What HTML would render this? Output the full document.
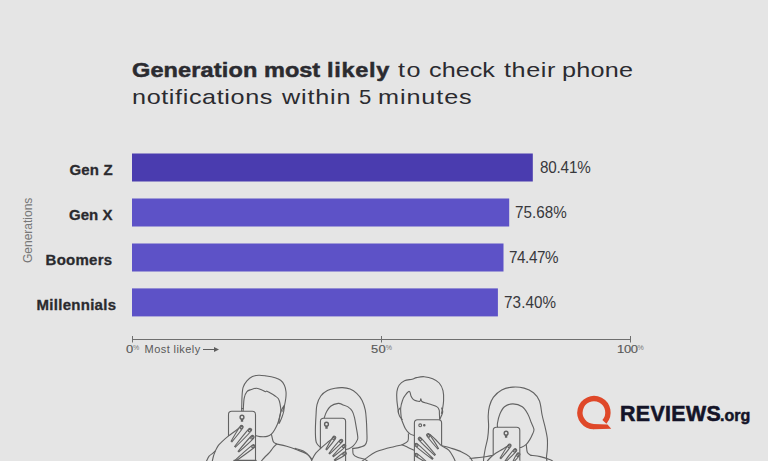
<!DOCTYPE html>
<html><head><meta charset="utf-8">
<style>
html,body{margin:0;padding:0;}
body{width:768px;height:461px;overflow:hidden;background:#e5e5e5;position:relative;font-family:"Liberation Sans",sans-serif;}
.tx{position:absolute;white-space:nowrap;}
.bar{position:absolute;left:132px;height:28px;background:#5d52c7;}
svg{position:absolute;left:0;top:0;}
</style></head><body>
<svg width="768" height="461">
<rect x="132" y="153.5" width="400.8" height="28" fill="#4a3caf"/>
<rect x="132" y="198.5" width="377.2" height="28" fill="#5d52c7"/>
<rect x="132" y="243.5" width="371.5" height="28" fill="#5d52c7"/>
<rect x="132" y="288.4" width="365.9" height="28" fill="#5d52c7"/>
</svg>
<div class="tx" style="left:131.7px;top:59.0px;font-size:21px;line-height:21px;font-weight:700;letter-spacing:0.11px;color:#2b2b30;transform-origin:0 0;transform:scaleX(1.12);-webkit-text-stroke:0.5px #2b2b30">Generation</div>
<div class="tx" style="left:264px;top:59.0px;font-size:21px;line-height:21px;font-weight:700;letter-spacing:0.0px;color:#2b2b30;transform-origin:0 0;transform:scaleX(1.12);-webkit-text-stroke:0.5px #2b2b30">most</div>
<div class="tx" style="left:327px;top:59.0px;font-size:21px;line-height:21px;font-weight:700;letter-spacing:0.64px;color:#2b2b30;transform-origin:0 0;transform:scaleX(1.12);-webkit-text-stroke:0.5px #2b2b30">likely</div>
<div class="tx" style="left:398.1px;top:59.0px;font-size:21px;line-height:21px;font-weight:400;letter-spacing:1.2px;color:#2b2b30;transform-origin:0 0;transform:scaleX(1.2);-webkit-text-stroke:0px #2b2b30">to</div>
<div class="tx" style="left:428.7px;top:59.0px;font-size:21px;line-height:21px;font-weight:400;letter-spacing:0.03px;color:#2b2b30;transform-origin:0 0;transform:scaleX(1.2);-webkit-text-stroke:0px #2b2b30">check</div>
<div class="tx" style="left:503.5px;top:59.0px;font-size:21px;line-height:21px;font-weight:400;letter-spacing:0.5px;color:#2b2b30;transform-origin:0 0;transform:scaleX(1.2);-webkit-text-stroke:0px #2b2b30">their</div>
<div class="tx" style="left:561.9px;top:59.0px;font-size:21px;line-height:21px;font-weight:400;letter-spacing:0.22px;color:#2b2b30;transform-origin:0 0;transform:scaleX(1.2);-webkit-text-stroke:0px #2b2b30">phone</div>
<div class="tx" style="left:132.1px;top:86.0px;font-size:21px;line-height:21px;font-weight:400;letter-spacing:0.51px;color:#2b2b30;transform-origin:0 0;transform:scaleX(1.2);-webkit-text-stroke:0px #2b2b30">notifications</div>
<div class="tx" style="left:282.2px;top:86.0px;font-size:21px;line-height:21px;font-weight:400;letter-spacing:0.67px;color:#2b2b30;transform-origin:0 0;transform:scaleX(1.2);-webkit-text-stroke:0px #2b2b30">within</div>
<div class="tx" style="left:358.7px;top:86.0px;font-size:21px;line-height:21px;font-weight:400;letter-spacing:0px;color:#2b2b30;transform-origin:0 0;transform:scaleX(1.05);-webkit-text-stroke:0px #2b2b30">5</div>
<div class="tx" style="left:378.2px;top:86.0px;font-size:21px;line-height:21px;font-weight:400;letter-spacing:0.76px;color:#2b2b30;transform-origin:0 0;transform:scaleX(1.2);-webkit-text-stroke:0px #2b2b30">minutes</div>
<div class="tx" style="left:69.5px;top:162.2px;font-size:15px;line-height:15px;font-weight:700;letter-spacing:0.15px;color:#2a2a2e;transform-origin:0 0;transform:scaleX(1);-webkit-text-stroke:0.3px #2a2a2e">Gen Z</div>
<div class="tx" style="left:69px;top:207.0px;font-size:15px;line-height:15px;font-weight:700;letter-spacing:0.05px;color:#2a2a2e;transform-origin:0 0;transform:scaleX(1);-webkit-text-stroke:0.3px #2a2a2e">Gen X</div>
<div class="tx" style="left:45.6px;top:252.1px;font-size:15px;line-height:15px;font-weight:700;letter-spacing:0.25px;color:#2a2a2e;transform-origin:0 0;transform:scaleX(1);-webkit-text-stroke:0.3px #2a2a2e">Boomers</div>
<div class="tx" style="left:36.6px;top:296.7px;font-size:15px;line-height:15px;font-weight:700;letter-spacing:0.27px;color:#2a2a2e;transform-origin:0 0;transform:scaleX(1);-webkit-text-stroke:0.3px #2a2a2e">Millennials</div>
<div class="tx" style="left:539.6px;top:160.1px;font-size:16px;line-height:16px;font-weight:400;letter-spacing:-0.18px;color:#38383c;transform-origin:0 0;transform:scaleX(0.95);-webkit-text-stroke:0px #38383c">80.41%</div>
<div class="tx" style="left:514.8px;top:204.8px;font-size:16px;line-height:16px;font-weight:400;letter-spacing:0.02px;color:#38383c;transform-origin:0 0;transform:scaleX(0.95);-webkit-text-stroke:0px #38383c">75.68%</div>
<div class="tx" style="left:509px;top:249.8px;font-size:16px;line-height:16px;font-weight:400;letter-spacing:-0.42px;color:#38383c;transform-origin:0 0;transform:scaleX(0.95);-webkit-text-stroke:0px #38383c">74.47%</div>
<div class="tx" style="left:503.6px;top:294.5px;font-size:16px;line-height:16px;font-weight:400;letter-spacing:0.12px;color:#38383c;transform-origin:0 0;transform:scaleX(0.95);-webkit-text-stroke:0px #38383c">73.40%</div>
<div class="tx" style="left:144.6px;top:344.2px;font-size:11px;line-height:11px;font-weight:400;letter-spacing:0.42px;color:#595959;transform-origin:0 0;transform:scaleX(1);-webkit-text-stroke:0px #595959">Most likely</div>
<div class="tx" style="left:126px;top:343.8px;font-size:11px;line-height:11px;font-weight:400;letter-spacing:0px;color:#595959;transform-origin:0 0;transform:scaleX(1.18);-webkit-text-stroke:0.15px #595959">0</div>
<div class="tx" style="left:370.9px;top:343.8px;font-size:11px;line-height:11px;font-weight:400;letter-spacing:0.2px;color:#595959;transform-origin:0 0;transform:scaleX(1.18);-webkit-text-stroke:0.15px #595959">50</div>
<div class="tx" style="left:617.1px;top:343.8px;font-size:11px;line-height:11px;font-weight:400;letter-spacing:-0.27px;color:#595959;transform-origin:0 0;transform:scaleX(1.18);-webkit-text-stroke:0.15px #595959">100</div>
<div class="tx" style="left:619.7px;top:403.4px;font-size:22px;line-height:22px;font-weight:700;letter-spacing:0.38px;color:#141428;transform-origin:0 0;transform:scaleX(0.97);-webkit-text-stroke:0.6px #141428">REVIEWS</div>
<div class="tx" style="left:22px;top:263px;transform-origin:0 0;transform:rotate(-90deg);font-size:12px;color:#777;line-height:12px;">Generations</div>
<svg width="768" height="461">
  <g fill="#6e6e6e">
  <rect x="132" y="339" width="499" height="1"/>
  <rect x="132" y="336" width="1" height="6.5"/>
  <rect x="381" y="336" width="1" height="6.5"/>
  <rect x="630" y="336" width="1" height="6.5"/>
  </g>
  <g fill="#777777" font-family="Liberation Sans" font-size="7">
  <text x="133" y="349.5">%</text>
  <text x="385.8" y="349.5">%</text>
  <text x="637.5" y="349.5">%</text>
  </g>
  <line x1="203" y1="349.5" x2="215" y2="349.5" stroke="#5e5e5e" stroke-width="1"/>
  <path d="M214 347 L219 349.5 L214 352 Z" fill="#5e5e5e"/>
  <path d="M604.4 421.9 A14 14 0 1 0 594 426.6" fill="none" stroke="#df4829" stroke-width="5.4"/><path d="M593.5 423.9 L607.5 424.4 L611.2 428.7 L593.5 429.3 Z" fill="#df4829"/>
  <text x="720" y="421.4" font-family="Liberation Sans" font-weight="bold" font-size="16" fill="#141428" stroke="#141428" stroke-width="0.5">.org</text>
  <g stroke="#626262" stroke-width="1.1" fill="none" stroke-linecap="round" stroke-linejoin="round"><path d="M241.7 411.4 C241.7 410.8 241.6 410.4 241.7 408.0 C241.8 405.6 241.8 400.5 242.0 397.1 C242.2 393.7 242.3 390.1 243.1 387.4 C243.9 384.7 245.3 382.6 246.9 380.8 C248.5 379.0 250.4 377.4 252.4 376.5 C254.4 375.6 256.5 375.3 258.9 375.2 C261.2 375.1 263.8 375.6 266.5 376.0 C269.2 376.4 272.8 377.1 275.1 377.8 C277.5 378.5 279.1 379.1 280.6 380.3 C282.2 381.5 283.5 383.3 284.4 385.2 C285.3 387.1 285.8 389.5 286.0 391.7 C286.2 393.9 286.1 395.8 285.8 398.2 C285.5 400.6 284.9 403.6 284.4 405.8 C283.9 408.0 283.0 410.3 282.7 411.2" fill="none"/><path d="M243.1 411.4 C243.1 411.0 243.1 411.2 243.3 409.0 C243.5 406.8 243.6 401.1 244.2 398.2 C244.8 395.3 245.7 393.1 246.9 391.7 C248.1 390.2 249.7 390.1 251.3 389.5 C252.9 388.9 254.9 388.1 256.7 388.2 C258.5 388.3 260.7 389.4 262.1 390.0 C263.6 390.6 264.6 391.5 265.4 391.7 C266.2 391.9 266.1 390.9 267.0 391.2 C267.9 391.5 269.4 392.5 270.8 393.3 C272.2 394.1 273.8 395.1 275.1 396.0 C276.4 396.9 277.6 397.4 278.4 398.7 C279.2 400.0 279.6 401.5 280.0 403.6 C280.4 405.7 280.9 408.8 280.8 411.2 C280.7 413.6 280.1 415.9 279.5 418.0 C278.9 420.1 278.3 422.0 277.5 424.0 C276.7 426.0 275.5 428.3 274.5 430.0 C273.5 431.7 272.6 433.1 271.4 434.2 C270.2 435.3 269.0 436.0 267.1 436.4 C265.2 436.8 261.8 436.7 259.9 436.6 C258.0 436.5 256.3 435.8 255.6 435.6" fill="none"/><path d="M241.7 408.5 L243.1 408.5" fill="none"/><path d="M284.2 405.5 C284.1 406.4 284.2 409.1 283.8 411.0 C283.4 412.9 282.8 414.9 282.0 417.0 C281.2 419.1 279.4 423.5 279.0 423.5 C278.6 423.5 279.1 419.2 279.5 417.0 C279.9 414.8 280.7 411.9 281.5 410.0 C282.3 408.1 283.8 406.2 284.2 405.5" fill="none"/><path d="M271.4 434.2 C271.7 435.4 272.4 439.8 273.2 441.4 C274.0 443.0 275.8 443.5 276.3 443.9" fill="none"/><path d="M276.3 443.9 C278.0 444.3 283.1 445.3 286.6 446.3 C290.1 447.3 294.3 448.8 297.5 450.0 C300.7 451.2 303.8 452.3 306.0 453.6 C308.2 454.9 309.8 456.7 311.0 458.0 C312.2 459.3 312.7 460.9 313.0 461.5" fill="none"/><path d="M276.3 444.3 C275.7 445.0 273.6 447.1 272.5 448.5 C271.4 449.9 270.9 450.9 269.6 452.4 C268.3 453.9 265.9 456.0 264.5 457.5 C263.1 459.0 261.6 460.8 261.0 461.5" fill="none"/><rect x="228.5" y="411.3" width="27" height="60" rx="3.2" fill="#e5e5e5"/><circle cx="242" cy="417.2" r="1.9" fill="none" stroke-width="1.4"/><path d="M240.9 418.8 L243.1 418.8 L243.2 421.8 L240.8 421.8 Z" fill="#626262" stroke="none"/><path d="M320.5 447.4 C319.8 446.6 317.2 445.1 316.4 442.7 C315.5 440.3 315.5 437.5 315.4 433.0 C315.3 428.5 315.7 420.2 316.0 415.5 C316.3 410.8 316.2 407.9 317.0 404.7 C317.8 401.4 319.1 398.4 320.8 396.0 C322.5 393.6 325.0 391.9 327.4 390.6 C329.8 389.3 332.5 388.7 335.0 388.2 C337.5 387.7 340.0 387.5 342.5 387.6 C345.0 387.7 347.7 388.1 350.1 389.0 C352.5 389.9 354.7 391.4 356.7 393.3 C358.7 395.2 360.7 397.6 362.1 400.4 C363.5 403.2 364.6 406.7 365.3 410.1 C366.0 413.5 366.1 417.2 366.4 421.0 C366.7 424.8 366.8 429.7 366.9 433.0 C367.0 436.3 367.2 438.6 366.9 440.6 C366.5 442.7 366.4 444.1 364.8 445.3 C363.2 446.5 359.5 447.4 357.5 447.9 C355.5 448.4 353.6 448.3 352.8 448.4" fill="none"/><path d="M324.1 418.3 C324.5 417.3 325.2 414.3 326.3 412.3 C327.4 410.3 328.6 407.8 330.6 406.3 C332.6 404.8 336.2 403.7 338.2 403.4 C340.2 403.1 340.9 404.1 342.5 404.7 C344.1 405.3 346.4 405.8 348.0 406.9 C349.6 408.0 351.2 409.4 352.3 411.2 C353.4 413.0 353.9 415.2 354.5 417.7 C355.1 420.2 355.6 423.4 356.1 426.4 C356.6 429.3 357.4 433.2 357.6 435.4 C357.8 437.6 358.2 437.9 357.5 439.6 C356.8 441.3 354.9 444.2 353.3 445.8 C351.7 447.4 349.4 448.4 348.1 449.0 C346.8 449.6 346.1 449.4 345.7 449.5" fill="none"/><path d="M352.8 448.4 C352.9 449.4 352.5 452.7 353.3 454.2 C354.1 455.7 355.7 456.5 357.5 457.3 C359.3 458.1 362.2 458.3 364.0 459.0 C365.8 459.7 367.3 461.1 368.0 461.5" fill="none"/><path d="M295.0 448.4 C296.4 448.8 300.9 449.7 303.3 451.0 C305.7 452.3 308.1 454.6 309.6 456.3 C311.1 458.1 311.8 460.6 312.2 461.5" fill="none"/><rect x="320.4" y="418.3" width="25.2" height="50" rx="3.2" fill="#e5e5e5"/><circle cx="326.5" cy="424.2" r="1.9" fill="none" stroke-width="1.4"/><path d="M325.4 425.8 L327.6 425.8 L327.7 428.8 L325.3 428.8 Z" fill="#626262" stroke="none"/><path d="M398.6 413.4 C398.3 411.2 397.2 404.0 396.9 400.4 C396.6 396.8 396.5 394.2 396.9 391.7 C397.3 389.2 397.8 387.0 399.1 385.2 C400.4 383.4 402.3 381.8 404.5 380.8 C406.7 379.8 410.1 379.7 412.1 379.2 C414.1 378.7 414.5 378.0 416.5 377.6 C418.5 377.2 421.4 376.5 424.1 376.7 C426.8 376.9 430.2 377.6 432.7 378.7 C435.2 379.8 437.5 381.0 439.2 383.0 C440.9 385.0 442.3 387.7 443.0 390.6 C443.7 393.5 443.7 397.3 443.6 400.4 C443.5 403.5 442.9 406.9 442.5 409.1 C442.1 411.3 441.6 412.7 441.4 413.4" fill="none"/><path d="M401.4 419.0 C401.3 417.2 400.4 411.3 400.7 408.0 C400.9 404.7 402.2 401.4 402.9 399.3 C403.6 397.2 404.2 396.8 405.1 395.5 C406.0 394.2 407.5 392.2 408.3 391.7 C409.1 391.1 409.6 391.5 410.0 392.2 C410.4 392.9 410.5 394.8 411.0 396.0 C411.5 397.2 412.3 398.5 413.2 399.3 C414.1 400.1 415.4 400.6 416.5 400.9 C417.6 401.2 419.2 401.7 419.9 401.3 C420.6 400.9 420.5 398.7 420.8 398.7 C421.1 398.7 421.0 400.8 421.9 401.5 C422.8 402.2 424.6 402.6 426.2 403.1 C427.8 403.6 429.9 404.1 431.7 404.7 C433.5 405.3 435.9 406.0 437.1 406.9 C438.4 407.8 438.8 409.0 439.2 410.1 C439.6 411.2 439.3 411.9 439.4 413.4 C439.5 414.9 439.6 418.1 439.7 419.0" fill="none"/><path d="M400.0 408.0 C399.7 408.5 398.3 409.7 398.2 411.0 C398.1 412.3 398.8 414.6 399.5 416.0 C400.2 417.4 401.8 418.9 402.2 419.5" fill="none"/><path d="M441.6 408.0 C441.8 408.7 442.8 410.7 442.7 412.0 C442.6 413.3 441.8 414.8 441.3 416.0 C440.8 417.2 440.0 418.9 439.7 419.5" fill="none"/><path d="M401.4 419.0 C402.0 420.6 403.9 425.9 405.3 428.4 C406.7 430.9 408.5 432.7 410.0 433.9 C411.5 435.1 413.7 435.2 414.4 435.5" fill="none"/><path d="M408.4 433.9 C408.3 435.1 408.9 439.1 407.9 440.9 C406.9 442.7 403.1 444.1 402.2 444.8" fill="none"/><path d="M402.2 444.8 C399.9 445.3 392.5 446.8 388.1 448.0 C383.7 449.2 379.2 450.2 375.6 451.9 C372.0 453.6 368.6 456.5 366.3 458.1 C364.0 459.7 362.4 460.9 361.6 461.5" fill="none"/><path d="M402.2 444.8 C403.2 445.2 406.0 446.6 408.0 447.5 C410.0 448.4 413.3 449.8 414.4 450.3" fill="none"/><rect x="414.4" y="419.8" width="27.2" height="50" rx="3.2" fill="#e5e5e5"/><circle cx="420.2" cy="425.3" r="1.4" fill="none"/><circle cx="424.3" cy="425.3" r="0.7" fill="#6e6e6e"/><path d="M441.3 445.6 C442.9 446.0 447.2 446.9 450.6 448.0 C454.0 449.1 458.5 450.5 461.6 451.9 C464.7 453.3 467.6 455.0 469.4 456.6 C471.2 458.2 472.0 460.7 472.5 461.5" fill="none"/><path d="M483.5 461.5 C483.6 460.8 483.5 459.4 483.8 457.3 C484.1 455.2 484.6 452.1 485.2 449.0 C485.8 445.9 487.0 442.1 487.6 438.4 C488.2 434.7 488.5 430.4 488.6 426.7 C488.7 423.0 488.1 419.4 488.2 416.0 C488.3 412.6 488.6 409.1 489.5 406.0 C490.4 402.9 491.3 400.1 493.3 397.4 C495.3 394.7 498.4 391.6 501.7 389.9 C505.0 388.2 509.2 387.4 512.9 387.1 C516.6 386.8 520.7 387.2 524.1 388.1 C527.5 389.0 530.9 390.6 533.5 392.7 C536.1 394.8 538.1 397.3 539.5 401.0 C540.9 404.7 541.2 410.7 542.1 415.0 C543.0 419.3 544.1 422.8 545.0 426.7 C545.9 430.6 546.9 434.7 547.3 438.4 C547.7 442.1 547.4 445.9 547.3 449.0 C547.2 452.1 546.5 455.2 546.5 457.3 C546.5 459.4 546.9 460.8 547.0 461.5" fill="none"/><path d="M497.5 427.3 C497.5 426.6 497.1 425.2 497.5 423.0 C497.9 420.8 498.7 416.7 499.9 414.0 C501.1 411.3 502.3 408.4 504.5 406.7 C506.7 405.0 509.9 403.9 512.9 403.9 C515.9 403.9 519.8 405.0 522.3 406.7 C524.8 408.4 526.4 411.6 527.9 414.2 C529.4 416.8 530.0 419.5 531.0 422.0 C532.0 424.5 533.6 427.1 533.9 429.1 C534.2 431.1 533.4 432.0 532.7 433.8 C532.0 435.5 530.9 437.8 529.8 439.6 C528.7 441.4 527.7 443.0 526.3 444.3 C524.9 445.6 522.7 446.7 521.6 447.2 C520.5 447.7 520.1 447.4 519.8 447.5" fill="none"/><path d="M526.3 444.9 C526.5 446.2 526.6 450.8 527.4 452.5 C528.2 454.2 530.4 454.9 531.0 455.4" fill="none"/><path d="M531.0 455.4 C532.5 455.6 537.0 455.8 540.3 456.6 C543.6 457.4 548.8 459.3 550.9 460.1 C553.0 460.9 552.6 461.3 553.0 461.5" fill="none"/><path d="M470.0 458.5 C471.6 458.3 476.6 457.8 479.4 457.5 C482.2 457.2 484.7 456.9 487.0 456.5 C489.3 456.1 492.2 455.4 493.3 455.2" fill="none"/><rect x="493.2" y="427.3" width="26.6" height="40" rx="3.2" fill="#e5e5e5"/><circle cx="506.1" cy="433.2" r="1.9" fill="none" stroke-width="1.4"/><path d="M505.0 434.8 L507.20000000000005 434.8 L507.3 437.8 L504.90000000000003 437.8 Z" fill="#626262" stroke="none"/><path d="M241.9 425.5 C240.9 426.3 238.2 428.8 236.0 430.5 C233.8 432.2 230.9 434.1 228.6 435.9 C226.3 437.7 224.0 439.8 222.3 441.4 C220.6 443.0 219.6 443.7 218.4 445.3 C217.2 446.9 216.2 449.5 215.3 450.8 C214.4 452.1 214.0 452.2 213.0 453.1 C212.0 454.0 210.2 454.9 209.1 456.2 C208.0 457.6 206.8 460.6 206.3 461.5 L236 461.5 Z" fill="#e5e5e5" stroke="none"/><path d="M241.9 425.5 C240.9 426.3 238.2 428.8 236.0 430.5 C233.8 432.2 230.9 434.1 228.6 435.9 C226.3 437.7 224.0 439.8 222.3 441.4 C220.6 443.0 219.6 443.7 218.4 445.3 C217.2 446.9 216.2 449.5 215.3 450.8 C214.4 452.1 214.0 452.2 213.0 453.1 C212.0 454.0 210.2 454.9 209.1 456.2 C208.0 457.6 206.8 460.6 206.3 461.5" fill="none"/><path d="M215.3 451.2 C215.0 452.0 214.0 454.3 213.5 456.0 C213.0 457.7 212.4 460.6 212.2 461.5" fill="none"/><path d="M231.1 441.2 Q236.4 431.9 240.4 426.0 A1.6 1.6 0 0 1 243.0 427.8 Q238.9 433.6 231.9 441.8" fill="#e5e5e5"/><ellipse cx="241.3" cy="427.5" rx="1.5" ry="0.9" transform="rotate(125 241.3 427.5)" fill="none"/><path d="M234.6 446.5 Q242.7 435.8 248.8 428.8 A1.6 1.6 0 0 1 251.2 431.0 Q245.0 437.9 235.4 447.1" fill="#e5e5e5"/><ellipse cx="249.6" cy="430.4" rx="1.5" ry="0.9" transform="rotate(132 249.6 430.4)" fill="none"/><path d="M238.1 451.3 Q245.7 442.0 251.3 436.0 A1.6 1.6 0 0 1 253.6 438.3 Q247.9 444.1 238.9 451.9" fill="#e5e5e5"/><ellipse cx="252.0" cy="437.7" rx="1.5" ry="0.9" transform="rotate(134 252.0 437.7)" fill="none"/><path d="M234.7 460.6 Q244.9 451.1 252.6 444.9 A1.6 1.6 0 0 1 254.6 447.3 Q246.8 453.4 235.3 461.4" fill="#e5e5e5"/><ellipse cx="253.0" cy="446.5" rx="1.5" ry="0.9" transform="rotate(141 253.0 446.5)" fill="none"/><path d="M234 460.5 L256 460.5" stroke-width="1.4"/><path d="M335.0 436.8 C333.8 437.7 330.3 440.1 328.0 442.0 C325.7 443.9 323.0 446.1 321.0 448.0 C319.0 449.9 317.3 451.2 315.8 453.1 C314.3 455.0 312.9 458.0 312.2 459.4 C311.5 460.8 311.6 461.1 311.5 461.5 L340 461.5 Z" fill="#e5e5e5" stroke="none"/><path d="M335.0 436.8 C333.8 437.7 330.3 440.1 328.0 442.0 C325.7 443.9 323.0 446.1 321.0 448.0 C319.0 449.9 317.3 451.2 315.8 453.1 C314.3 455.0 312.9 458.0 312.2 459.4 C311.5 460.8 311.6 461.1 311.5 461.5" fill="none"/><path d="M325.9 449.2 Q330.0 441.6 333.0 436.9 A1.5 1.5 0 0 1 335.5 438.6 Q332.3 443.1 326.7 449.8" fill="#e5e5e5"/><ellipse cx="333.8" cy="438.4" rx="1.5" ry="0.9" transform="rotate(124 333.8 438.4)" fill="none"/><path d="M329.0 453.3 Q335.5 444.9 340.3 439.7 A1.5 1.5 0 0 1 342.5 441.7 Q337.6 446.9 329.8 453.9" fill="#e5e5e5"/><ellipse cx="340.8" cy="441.3" rx="1.5" ry="0.9" transform="rotate(133 340.8 441.3)" fill="none"/><path d="M332.7 455.9 Q338.9 448.9 343.4 444.7 A1.5 1.5 0 0 1 345.4 446.9 Q340.8 451.0 333.3 456.7" fill="#e5e5e5"/><ellipse cx="343.8" cy="446.4" rx="1.5" ry="0.9" transform="rotate(137 343.8 446.4)" fill="none"/><path d="M334.3 460.0 Q340.1 454.9 343.9 452.2 A1.5 1.5 0 0 1 345.6 454.7 Q341.7 457.3 334.9 460.8" fill="#e5e5e5"/><ellipse cx="344.1" cy="453.9" rx="1.5" ry="0.9" transform="rotate(146 344.1 453.9)" fill="none"/><path d="M430.0 434.5 C431.0 435.4 434.1 438.1 436.0 440.0 C437.9 441.9 439.1 443.9 441.3 445.6 C443.5 447.3 446.9 448.2 449.0 450.3 C451.1 452.4 452.7 456.2 453.8 458.1 C454.8 460.0 455.0 460.9 455.3 461.5 L425 461.5 Z" fill="#e5e5e5" stroke="none"/><path d="M430.0 434.5 C431.0 435.4 434.1 438.1 436.0 440.0 C437.9 441.9 439.1 443.9 441.3 445.6 C443.5 447.3 446.9 448.2 449.0 450.3 C451.1 452.4 452.7 456.2 453.8 458.1 C454.8 460.0 455.0 460.9 455.3 461.5" fill="none"/><path d="M437.7 449.0 Q431.0 441.4 426.9 436.0 A1.5 1.5 0 0 1 429.3 434.2 Q433.3 439.7 438.5 448.5" fill="#e5e5e5"/><ellipse cx="428.6" cy="435.8" rx="1.5" ry="0.9" transform="rotate(54 428.6 435.8)" fill="none"/><path d="M434.6 455.3 Q424.9 446.3 418.5 439.6 A1.5 1.5 0 0 1 420.7 437.6 Q427.0 444.4 435.4 454.7" fill="#e5e5e5"/><ellipse cx="420.2" cy="439.2" rx="1.5" ry="0.9" transform="rotate(47 420.2 439.2)" fill="none"/><path d="M432.4 459.3 Q422.0 451.7 415.2 445.9 A1.5 1.5 0 0 1 417.1 443.6 Q423.9 449.5 433.0 458.5" fill="#e5e5e5"/><ellipse cx="416.7" cy="445.2" rx="1.5" ry="0.9" transform="rotate(41 416.7 445.2)" fill="none"/><path d="M425.3 461.9 Q418.8 458.4 415.1 455.8 A1.5 1.5 0 0 1 416.8 453.4 Q420.4 456.1 425.9 461.1" fill="#e5e5e5"/><ellipse cx="416.6" cy="455.1" rx="1.5" ry="0.9" transform="rotate(35 416.6 455.1)" fill="none"/><path d="M510.2 444.5 C509.0 445.2 505.4 447.6 503.0 449.0 C500.6 450.4 498.2 451.5 496.0 453.0 C493.8 454.5 491.5 456.6 490.0 458.0 C488.5 459.4 487.5 460.9 487.0 461.5 L520 461.5 Z" fill="#e5e5e5" stroke="none"/><path d="M510.2 444.5 C509.0 445.2 505.4 447.6 503.0 449.0 C500.6 450.4 498.2 451.5 496.0 453.0 C493.8 454.5 491.5 456.6 490.0 458.0 C488.5 459.4 487.5 460.9 487.0 461.5" fill="none"/><path d="M500.1 458.1 Q504.8 449.8 508.3 444.7 A1.5 1.5 0 0 1 510.8 446.4 Q507.1 451.5 500.9 458.7" fill="#e5e5e5"/><ellipse cx="509.1" cy="446.2" rx="1.5" ry="0.9" transform="rotate(125 509.1 446.2)" fill="none"/><path d="M504.8 461.2 Q510.2 453.7 514.2 449.1 A1.5 1.5 0 0 1 516.4 451.1 Q512.4 455.6 505.6 461.8" fill="#e5e5e5"/><ellipse cx="514.8" cy="450.7" rx="1.5" ry="0.9" transform="rotate(132 514.8 450.7)" fill="none"/><path d="M513.0 461.2 Q515.4 456.1 517.1 453.5 A1.5 1.5 0 0 1 519.6 455.2 Q517.8 457.7 513.8 461.8" fill="#e5e5e5"/><ellipse cx="517.9" cy="455.0" rx="1.5" ry="0.9" transform="rotate(125 517.9 455.0)" fill="none"/></g>
</svg>
</body></html>
